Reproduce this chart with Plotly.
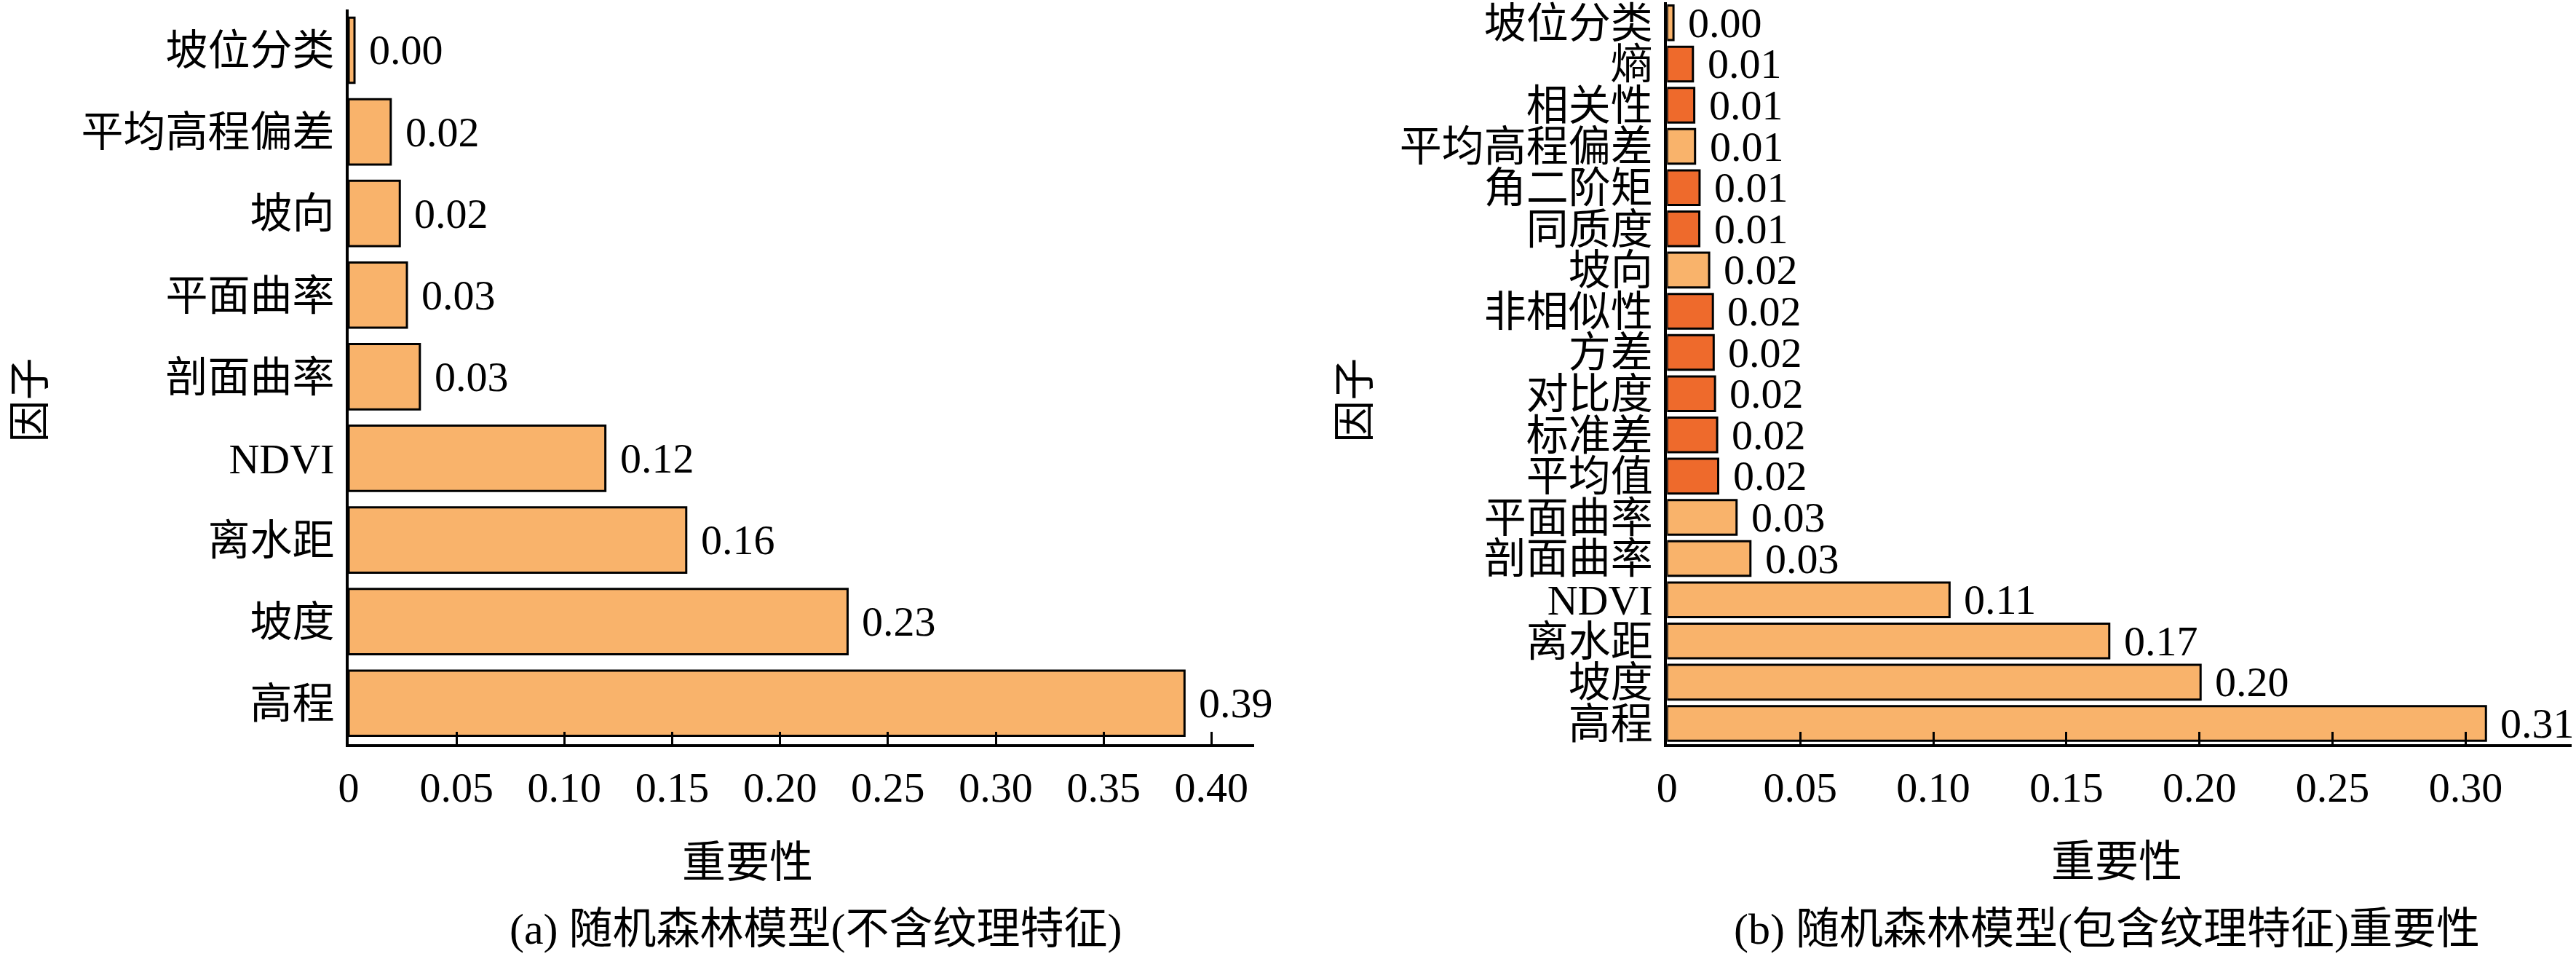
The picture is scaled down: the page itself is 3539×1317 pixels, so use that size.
import plotly.graph_objects as go

# ---------------- data ----------------
cats_a = ["坡位分类", "平均高程偏差", "坡向", "平面曲率", "剖面曲率", "NDVI", "离水距", "坡度", "高程"]
vals_a = [0.0027, 0.0195, 0.0237, 0.0270, 0.0330, 0.1190, 0.1565, 0.2313, 0.3875]

cats_b = ["坡位分类", "熵", "相关性", "平均高程偏差", "角二阶矩", "同质度", "坡向", "非相似性", "方差",
          "对比度", "标准差", "平均值", "平面曲率", "剖面曲率", "NDVI", "离水距", "坡度", "高程"]
vals_b = [0.0024, 0.0097, 0.0102, 0.0105, 0.0122, 0.0121, 0.0158, 0.0172, 0.0175,
          0.0180, 0.0188, 0.0192, 0.0261, 0.0313, 0.1061, 0.1661, 0.2004, 0.3076]
texture_b = [False, True, True, False, True, True, False, True, True,
             True, True, True, False, False, False, False, False, False]

ticks_a = [0, 0.05, 0.10, 0.15, 0.20, 0.25, 0.30, 0.35, 0.40]
ticktext_a = ["0", "0.05", "0.10", "0.15", "0.20", "0.25", "0.30", "0.35", "0.40"]
ticks_b = [0, 0.05, 0.10, 0.15, 0.20, 0.25, 0.30]
ticktext_b = ["0", "0.05", "0.10", "0.15", "0.20", "0.25", "0.30"]

x_title = "重要性"
y_title = "因子"
caption_a = "(a) 随机森林模型(不含纹理特征)"
caption_b = "(b) 随机森林模型(包含纹理特征)重要性"

# ---------------- style ----------------
W, H = 3539, 1317
LIGHT = "#F9B36B"
DARK = "#EE6A2C"
FONT = "'Liberation Serif', 'Noto Sans CJK SC', serif"
FS = 58

def px(x):
    return x / W

def py(y):
    return 1 - y / H

fig = go.Figure()

fig.add_trace(go.Bar(
    x=vals_a, y=cats_a, orientation="h", width=0.8,
    marker=dict(color=LIGHT, line=dict(color="black", width=3)),
    xaxis="x", yaxis="y", showlegend=False, hoverinfo="x+y"))

fig.add_trace(go.Bar(
    x=vals_b, y=cats_b, orientation="h", width=0.84,
    marker=dict(color=[DARK if t else LIGHT for t in texture_b],
                line=dict(color="black", width=3)),
    xaxis="x2", yaxis="y2", showlegend=False, hoverinfo="x+y"))

annotations = []
for c, v in zip(cats_a, vals_a):
    annotations.append(dict(x=v, y=c, xref="x", yref="y", text=f"{v:.2f}",
                            xanchor="left", yanchor="middle", xshift=18, showarrow=False,
                            font=dict(family=FONT, size=FS, color="black")))
for c, v in zip(cats_b, vals_b):
    annotations.append(dict(x=v, y=c, xref="x2", yref="y2", text=f"{v:.2f}",
                            xanchor="left", yanchor="middle", xshift=18, showarrow=False,
                            font=dict(family=FONT, size=FS, color="black")))

def txt(text, x, y, size, angle=0):
    return dict(text=text, x=px(x), y=py(y), xref="paper", yref="paper",
                xanchor="center", yanchor="middle", showarrow=False, textangle=angle,
                font=dict(family=FONT, size=size, color="black"))

annotations += [
    txt(x_title, 1016, 1189, 60),
    txt(x_title, 2905, 1188, 60),
    txt(y_title, 27, 550, 58, -90),
    txt(y_title, 1855, 550, 58, -90),
    txt(caption_a, 1111, 1281, 60),
    txt(caption_b, 2892, 1281, 60),
]

axis_common = dict(showline=True, linecolor="black", linewidth=4, showgrid=False,
                   zeroline=False, tickfont=dict(family=FONT, size=FS, color="black"))

fig.update_layout(
    width=W, height=H, margin=dict(l=0, r=0, t=0, b=0),
    paper_bgcolor="white", plot_bgcolor="white",
    font=dict(family=FONT, size=FS, color="black"),
    annotations=annotations,
    xaxis=dict(domain=[px(466), px(1715)], range=[0, 0.4197], anchor="y",
               tickmode="array", tickvals=ticks_a, ticktext=ticktext_a,
               ticks="inside", ticklen=17, tickwidth=3, tickcolor="black",
               ticklabelstandoff=6, **axis_common),
    yaxis=dict(domain=[py(1025), py(10)], range=[len(cats_a) - 0.5, -0.5], anchor="x",
               type="category", tickmode="array", tickvals=cats_a, ticktext=cats_a,
               ticks="", ticklabelstandoff=4, **axis_common),
    xaxis2=dict(domain=[px(2285), px(3533)], range=[0, 0.3398], anchor="y2",
                tickmode="array", tickvals=ticks_b, ticktext=ticktext_b,
                ticks="inside", ticklen=17, tickwidth=3, tickcolor="black",
                ticklabelstandoff=6, **axis_common),
    yaxis2=dict(domain=[py(1025), 1.0], range=[len(cats_b) - 0.5, -0.5], anchor="x2",
                type="category", tickmode="array", tickvals=cats_b, ticktext=cats_b,
                ticks="", ticklabelstandoff=4, **axis_common),
)

fig.write_html("out.html")
